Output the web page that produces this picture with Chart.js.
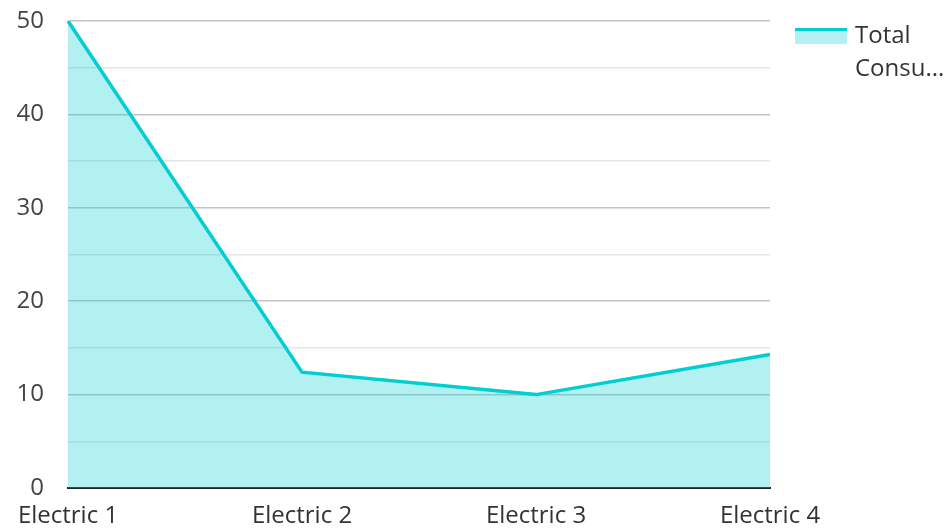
<!DOCTYPE html>
<html lang="en">
<head>
    <meta charset="UTF-8">
    <title>Chart</title>
    <script src="https://cdn.jsdelivr.net/npm/chart.js"></script>
    <style>
        body { margin: 0; background: #fff; font-family: "Open Sans", sans-serif; }
        #wrap { position: relative; width: 949px; height: 529px; }
        #legend { position: absolute; left: 795px; top: 17px; display: flex; align-items: flex-start; color: #333; font-size: 24px; line-height: 33px; }
        #legend .box { width: 52px; height: 13px; margin-top: 11px; margin-right: 8px; background: rgba(0, 206, 209, 0.3); border-top: 3px solid #00ced1; }
    </style>
</head>
<body>
    <div id="wrap">
        <canvas id="myChart"></canvas>
        <div id="legend"><div class="box"></div><div>Total<br>Consu...</div></div>
    </div>

    <script>
        const categories = ['Electric 1', 'Electric 2', 'Electric 3', 'Electric 4'];
        const totalConsumption = [50, 12.4, 10, 14.3];
        const seriesName = 'Total Consumption';

        var ctx = document.getElementById('myChart').getContext('2d');
        var myChart = new Chart(ctx, {
            type: 'line',
            data: {
                labels: categories,
                datasets: [{
                    label: seriesName,
                    data: totalConsumption,
                    borderColor: '#00ced1',
                    backgroundColor: 'rgba(0, 206, 209, 0.3)',
                    borderWidth: 3.5,
                    pointRadius: 0,
                    tension: 0,
                    fill: 'origin'
                }]
            },
            options: {
                responsive: true,
                maintainAspectRatio: false,
                animation: false,
                layout: { padding: { top: 21, right: 179, bottom: 0, left: 0 } },
                plugins: {
                    legend: { display: false },
                    tooltip: { enabled: false }
                },
                scales: {
                    x: {
                        grid: { display: false, drawTicks: false },
                        border: { color: '#222', width: 2 },
                        ticks: { color: '#333', font: { family: 'Open Sans', size: 24 }, padding: 14, maxRotation: 0 },
                        // chart.js doubles tick padding when sizing the axis, so pin it
                        afterFit: s => { s.height = 41; }
                    },
                    y: {
                        min: 0,
                        max: 50,
                        border: { display: false },
                        grid: {
                            drawTicks: false,
                            color: c => (c.tick.value % 10 === 0 ? '#c4c4c4' : '#e6e6e6'),
                            lineWidth: 1.5
                        },
                        ticks: {
                            stepSize: 5,
                            color: '#444',
                            padding: 24,
                            font: { family: 'Open Sans', size: 24 },
                            callback: v => (v % 10 === 0 ? v : '')
                        },
                        afterFit: s => { s.width = 68; s.paddingTop = 14; s.paddingBottom = 14; }
                    }
                }
            }
        });
    </script>
</body>
</html>
